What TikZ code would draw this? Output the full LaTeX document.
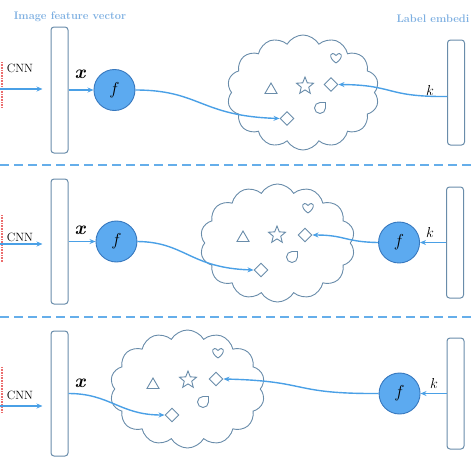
\documentclass[tikz,border=0pt]{standalone}
\usetikzlibrary{positioning,shapes.geometric,shapes.symbols,arrows.meta}

\definecolor{linkblue}{RGB}{74,160,230}
\definecolor{funcblue}{RGB}{92,170,240}
\definecolor{funcedge}{RGB}{55,120,190}
\definecolor{vecgray}{RGB}{105,140,170}
\definecolor{titleblue}{RGB}{125,175,225}
\definecolor{cnnred}{RGB}{235,110,110}

\tikzset{
  vec/.style={draw=vecgray, line width=1pt, rounded corners=3pt, minimum width=17pt, inner sep=0pt},
  func/.style={circle, draw=funcedge, fill=funcblue, line width=0.9pt, minimum size=41pt, inner sep=0pt, font=\fontsize{16}{16}\selectfont},
  cloudy/.style={cloud, cloud puffs=14, cloud puff arc=120, aspect=1.3, draw=vecgray, line width=0.9pt, inner sep=0pt},
  link/.style={draw=linkblue, line width=1.4pt, -{Stealth[length=6pt,width=5pt]}},
  sep/.style={draw=linkblue!85, line width=1.8pt, dash pattern=on 9pt off 5pt},
  cnnbar/.style={draw=cnnred, line width=2pt, dash pattern=on 0.6pt off 1pt},
  tri/.style={regular polygon, regular polygon sides=3, draw=vecgray, line width=0.9pt, minimum size=14pt, inner sep=0pt},
  starry/.style={star, star points=5, star point ratio=2.3, draw=vecgray, line width=0.9pt, minimum size=18pt, inner sep=0pt},
  dia/.style={diamond, draw=vecgray, line width=0.9pt, minimum size=14pt, inner sep=0pt},
  heartmark/.pic={\draw[vecgray, line width=0.9pt] (0,5) .. controls (-9,-1) and (-5,-8) .. (0,-2.5) .. controls (5,-8) and (9,-1) .. (0,5);},
  dropmark/.pic={\draw[vecgray, line width=0.9pt] (5.5,0) arc[start angle=0, end angle=270, radius=5.5] -- (5.5,-5.5) -- cycle;},
  title/.style={text=titleblue, font=\fontsize{11}{13}\selectfont\bfseries},
  cnntext/.style={font=\fontsize{12}{14}\selectfont},
  xlabel/.style={font=\fontsize{19}{19}\selectfont\bfseries\itshape},
  klabel/.style={font=\fontsize{15}{15}\selectfont}
}

\begin{document}
\begin{tikzpicture}[x=1pt, y=-1pt]

  \useasboundingbox (0,0) rectangle (474,474);

  \node (T1) [title] at (70,17) {Image feature vector};
  \node (T2) [title, anchor=west] at (393,19) {Label embedi};

  % top
  \node (V1) [vec, minimum height=126pt] at (59.5,90) {};
  \node (F1) [func, right=25pt of V1] {$f$};
  \node (C1) [cloudy, minimum width=152pt, minimum height=115pt] at (303,92.5) {};
  \node (R1) [vec, minimum height=105pt] at (456,92.5) {};
  \node (A1) [tri] at (271,90) {};
  \node (S1) [starry] at (305,86) {};
  \node (U1) [dia] at (331,84.5) {};
  \node (L1) [dia] at (287,118.5) {};
  \pic at (336,58) {heartmark};
  \pic at (320,108) {dropmark};
  \draw[cnnbar] (1.5,62) -- (1.5,108);
  \node (N1) [cnntext] at (20,68) {CNN};
  \coordinate (I1) at (0,89);
  \node (X1) [xlabel] at (80,74) {x};
  \node (K1) [klabel] at (430,90) {$k$};

  \draw[link, shorten >=8pt] (I1) -- (I1 -| V1.west);
  \draw[link] (V1) -- (F1);
  \draw[link] (F1.east) .. controls (200,90) and (200,116) .. (L1.west);
  \draw[link] ([yshift=-4pt]R1.west) .. controls (385,97) and (395,85) .. (U1.east);

  \draw[sep] (0,165) -- (474,165);

  % middle
  \node (V2) [vec, minimum height=125pt] at (59.5,241.5) {};
  \node (F2) [func, right=27pt of V2] {$f$};
  \node (C2) [cloudy, minimum width=155pt, minimum height=118pt] at (277.5,243) {};
  \node (R2) [vec, minimum height=111pt] at (455,242.5) {};
  \node (G2) [func, left=26pt of R2] {$f$};
  \node (A2) [tri] at (243,238) {};
  \node (S2) [starry] at (277,235) {};
  \node (U2) [dia] at (305,235) {};
  \node (L2) [dia] at (261,270) {};
  \pic at (308,208) {heartmark};
  \pic at (292,257) {dropmark};
  \draw[cnnbar] (1.5,215) -- (1.5,262);
  \node (N2) [cnntext] at (20,237) {CNN};
  \coordinate (I2) at (0,244);
  \node (X2) [xlabel] at (80,230) {x};
  \node (K2) [klabel] at (430,232) {$k$};

  \draw[link, shorten >=8pt] (I2) -- (I2 -| V2.west);
  \draw[link] (V2) -- (F2);
  \draw[link] (F2.east) .. controls (185,242) and (190,268) .. (L2.west);
  \draw[link] (R2) -- (G2);
  \draw[link] (G2.west) .. controls (345,242) and (345,235) .. (U2.east);

  \draw[sep] (0,317) -- (474,317);

  % bottom
  \node (V3) [vec, minimum height=125pt] at (59.5,393.5) {};
  \node (C3) [cloudy, minimum width=155pt, minimum height=118pt] at (187.5,389) {};
  \node (R3) [vec, minimum height=111pt] at (455.5,393.5) {};
  \node (G3) [func, left=26pt of R3] {$f$};
  \node (A3) [tri] at (153,385) {};
  \node (S3) [starry] at (188,380) {};
  \node (U3) [dia] at (216,379) {};
  \node (L3) [dia] at (172,415) {};
  \pic at (218,353) {heartmark};
  \pic at (203,402) {dropmark};
  \draw[cnnbar] (1.5,367) -- (1.5,412);
  \node (N3) [cnntext] at (20,395) {CNN};
  \coordinate (I3) at (0,406);
  \node (X3) [xlabel] at (80,383) {x};
  \node (K3) [klabel] at (434,383) {$k$};

  \draw[link, shorten >=8pt] (I3) -- (I3 -| V3.west);
  \draw[link] (V3.east) .. controls (110,393.5) and (120,415) .. (L3.west);
  \draw[link] (R3) -- (G3);
  \draw[link] (G3.west) .. controls (290,394) and (310,381) .. (U3.east);

\end{tikzpicture}
\end{document}
